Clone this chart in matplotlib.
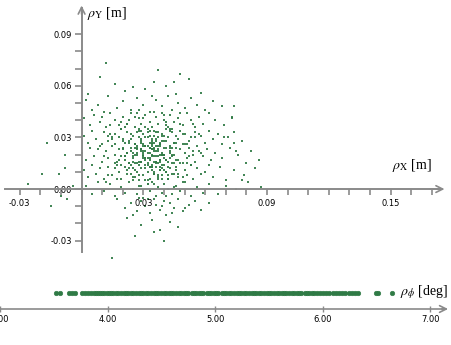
import numpy as np
import matplotlib
matplotlib.use("Agg")
import matplotlib.pyplot as plt

# ===============================
# Data
# ===============================
# position scatter, rho_X / rho_Y in metres, grouped in bands of rho_Y
x_top = [0.012, 0.009, 0.037, 0.048, 0.052, 0.016, 0.025, 0.031, 0.041, 0.045, 0.021, 0.058, 0.003, 0.035]
y_top = [0.073, 0.065, 0.069, 0.067, 0.064, 0.061, 0.059, 0.058, 0.060, 0.062, 0.057, 0.056, 0.055, 0.062]

x_high = [0.002, 0.008, 0.013, 0.017, 0.020, 0.024, 0.027, 0.030, 0.033, 0.036, 0.039, 0.042, 0.044,
          0.047, 0.050, 0.053, 0.056, 0.060, 0.064, 0.011, 0.028, 0.034, 0.046, 0.068, 0.005]
y_high = [0.052, 0.049, 0.054, 0.047, 0.051, 0.046, 0.053, 0.049, 0.045, 0.052, 0.048, 0.054, 0.046,
          0.050, 0.047, 0.053, 0.049, 0.046, 0.051, 0.045, 0.046, 0.054, 0.055, 0.048, 0.046]

x_b40 = [0.001, 0.004, 0.006, 0.009, 0.012, 0.014, 0.016, 0.018, 0.020, 0.022,
         0.024, 0.026, 0.028, 0.029, 0.031, 0.033, 0.034, 0.036, 0.037, 0.039,
         0.040, 0.042, 0.043, 0.045, 0.047, 0.049, 0.051, 0.053, 0.055, 0.057,
         0.059, 0.062, 0.065, 0.069, 0.073, 0.019, 0.027, 0.035, 0.041, 0.048,
         0.010, 0.023, 0.032, 0.044, 0.054]
y_b40 = [0.041, 0.037, 0.043, 0.039, 0.036, 0.044, 0.040, 0.037, 0.042, 0.038,
         0.044, 0.036, 0.041, 0.038, 0.043, 0.039, 0.036, 0.042, 0.038, 0.044,
         0.040, 0.036, 0.043, 0.039, 0.041, 0.037, 0.044, 0.040, 0.036, 0.042,
         0.038, 0.044, 0.040, 0.037, 0.042, 0.035, 0.044, 0.045, 0.037, 0.044,
         0.042, 0.040, 0.035, 0.035, 0.038]

x_b30 = [0.001, 0.003, 0.005, 0.007, 0.009, 0.011, 0.013, 0.014, 0.016, 0.018,
         0.019, 0.021, 0.022, 0.024, 0.025, 0.026, 0.028, 0.029, 0.030, 0.031,
         0.032, 0.033, 0.034, 0.035, 0.036, 0.037, 0.038, 0.039, 0.040, 0.041,
         0.042, 0.043, 0.044, 0.045, 0.046, 0.047, 0.048, 0.049, 0.050, 0.052,
         0.053, 0.055, 0.056, 0.058, 0.060, 0.062, 0.064, 0.066, 0.068, 0.071,
         0.074, 0.078, 0.020, 0.027, 0.033, 0.038, 0.043, 0.015, 0.051, 0.057]
y_b30 = [0.031, 0.027, 0.034, 0.029, 0.025, 0.033, 0.028, 0.032, 0.026, 0.030,
         0.035, 0.027, 0.033, 0.029, 0.031, 0.026, 0.034, 0.028, 0.032, 0.025,
         0.030, 0.034, 0.027, 0.031, 0.029, 0.033, 0.026, 0.032, 0.028, 0.035,
         0.030, 0.025, 0.033, 0.027, 0.031, 0.029, 0.034, 0.026, 0.032, 0.028,
         0.030, 0.033, 0.025, 0.031, 0.027, 0.034, 0.029, 0.032, 0.026, 0.030,
         0.033, 0.028, 0.029, 0.025, 0.031, 0.027, 0.034, 0.030, 0.026, 0.032]

x_b20 = [0.000, 0.002, 0.004, 0.006, 0.008, 0.010, 0.012, 0.013, 0.015, 0.016,
         0.017, 0.018, 0.019, 0.020, 0.021, 0.022, 0.023, 0.024, 0.025, 0.026,
         0.027, 0.028, 0.029, 0.030, 0.030, 0.031, 0.032, 0.033, 0.033, 0.034,
         0.035, 0.035, 0.036, 0.037, 0.038, 0.038, 0.039, 0.040, 0.041, 0.042,
         0.043, 0.044, 0.045, 0.046, 0.047, 0.048, 0.049, 0.050, 0.051, 0.052,
         0.054, 0.055, 0.057, 0.059, 0.061, 0.063, 0.065, 0.068, 0.072, 0.076,
         0.082, 0.086, 0.026, 0.031, 0.036, 0.040, 0.044, 0.021, 0.034, 0.029]
y_b20 = [0.021, 0.017, 0.024, 0.019, 0.023, 0.016, 0.022, 0.018, 0.025, 0.020,
         0.016, 0.023, 0.019, 0.024, 0.017, 0.021, 0.015, 0.022, 0.018, 0.024,
         0.020, 0.016, 0.023, 0.019, 0.025, 0.017, 0.021, 0.018, 0.024, 0.020,
         0.016, 0.022, 0.019, 0.023, 0.017, 0.025, 0.021, 0.018, 0.024, 0.016,
         0.022, 0.019, 0.020, 0.024, 0.017, 0.023, 0.015, 0.021, 0.018, 0.024,
         0.020, 0.016, 0.022, 0.019, 0.023, 0.017, 0.021, 0.018, 0.024, 0.020,
         0.022, 0.017, 0.015, 0.025, 0.016, 0.020, 0.015, 0.019, 0.025, 0.022]

x_b10 = [0.001, 0.003, 0.005, 0.007, 0.009, 0.011, 0.013, 0.015, 0.016, 0.018,
         0.019, 0.021, 0.022, 0.024, 0.025, 0.026, 0.028, 0.029, 0.030, 0.031,
         0.032, 0.033, 0.034, 0.035, 0.036, 0.037, 0.038, 0.039, 0.040, 0.041,
         0.042, 0.043, 0.044, 0.046, 0.047, 0.048, 0.050, 0.051, 0.053, 0.054,
         0.056, 0.058, 0.060, 0.062, 0.064, 0.067, 0.070, 0.074, 0.079, 0.084,
         0.027, 0.032, 0.035, 0.039, 0.045, 0.017, 0.023, 0.049, 0.034, 0.038]
y_b10 = [0.011, 0.007, 0.014, 0.009, 0.012, 0.006, 0.013, 0.008, 0.015, 0.010,
         0.006, 0.013, 0.009, 0.014, 0.007, 0.011, 0.005, 0.012, 0.008, 0.014,
         0.010, 0.006, 0.013, 0.009, 0.015, 0.007, 0.011, 0.008, 0.014, 0.010,
         0.006, 0.012, 0.009, 0.013, 0.007, 0.015, 0.011, 0.008, 0.014, 0.006,
         0.012, 0.009, 0.010, 0.014, 0.007, 0.013, 0.005, 0.011, 0.008, 0.012,
         0.015, 0.005, 0.010, 0.006, 0.009, 0.014, 0.012, 0.007, 0.013, 0.011]

x_b00 = [0.002, 0.005, 0.008, 0.011, 0.014, 0.016, 0.019, 0.021, 0.023, 0.025,
         0.027, 0.029, 0.030, 0.032, 0.033, 0.034, 0.036, 0.037, 0.039, 0.040,
         0.042, 0.044, 0.046, 0.048, 0.050, 0.053, 0.056, 0.059, 0.062, 0.066,
         0.070, 0.075, 0.081, 0.087, 0.028, 0.035, 0.041, -0.004, -0.010, 0.045]
y_b00 = [0.002, -0.003, 0.004, -0.001, 0.003, -0.004, 0.001, -0.002, 0.004, 0.000,
         -0.003, 0.002, -0.005, 0.003, -0.001, 0.004, -0.004, 0.001, -0.002, 0.003,
         0.000, -0.003, 0.002, -0.001, 0.004, -0.004, 0.001, -0.002, 0.003, -0.003,
         0.002, 0.000, 0.004, 0.001, -0.005, 0.003, -0.004, 0.002, -0.004, 0.001]

x_neg = [0.017, 0.021, 0.024, 0.027, 0.029, 0.031, 0.033, 0.035, 0.036, 0.038,
         0.040, 0.041, 0.043, 0.045, 0.047, 0.049, 0.052, 0.055, 0.058, 0.062,
         0.025, 0.032, 0.039, 0.044, 0.050,
         0.022, 0.029, 0.034, 0.038, 0.043, 0.047, 0.026, 0.040, 0.035, 0.015]
y_neg = [-0.006, -0.011, -0.008, -0.013, -0.007, -0.010, -0.014, -0.006, -0.009, -0.012,
         -0.007, -0.015, -0.008, -0.011, -0.006, -0.013, -0.009, -0.007, -0.012, -0.008,
         -0.015, -0.006, -0.010, -0.014, -0.011,
         -0.017, -0.021, -0.018, -0.024, -0.019, -0.022, -0.027, -0.030, -0.025, -0.040]

x_core = [0.021, 0.023, 0.025, 0.027, 0.029, 0.031, 0.033, 0.035, 0.037, 0.039, 0.041, 0.043,
          0.022, 0.024, 0.026, 0.028, 0.030, 0.032, 0.034, 0.036, 0.038, 0.040, 0.042, 0.044,
          0.023, 0.025, 0.027, 0.029, 0.031, 0.033, 0.035, 0.037, 0.039, 0.041, 0.043, 0.045,
          0.024, 0.026, 0.028, 0.030, 0.032, 0.034, 0.036, 0.038, 0.040, 0.042,
          0.020, 0.046, 0.031, 0.035, 0.027, 0.039, 0.033, 0.029, 0.037, 0.025, 0.041, 0.034, 0.030, 0.036,
          0.028, 0.030, 0.032, 0.034, 0.036, 0.038, 0.040, 0.029, 0.031, 0.033, 0.035, 0.037, 0.039, 0.027, 0.032,
          0.034, 0.036, 0.030, 0.038, 0.033, 0.035, 0.031, 0.037, 0.029, 0.039, 0.026, 0.041, 0.032, 0.034, 0.036]
y_core = [0.019, 0.027, 0.012, 0.023, 0.016, 0.030, 0.021, 0.009, 0.025, 0.014, 0.028, 0.018,
          0.011, 0.032, 0.020, 0.008, 0.026, 0.015, 0.029, 0.022, 0.017, 0.031, 0.013, 0.024,
          0.028, 0.016, 0.010, 0.034, 0.022, 0.013, 0.027, 0.019, 0.031, 0.010, 0.021, 0.015,
          0.024, 0.007, 0.030, 0.018, 0.033, 0.011, 0.016, 0.026, 0.020, 0.008,
          0.023, 0.027, 0.005, 0.019, 0.033, 0.012, 0.024, 0.029, 0.006, 0.021, 0.017, 0.014, 0.020, 0.025,
          0.014, 0.022, 0.018, 0.026, 0.013, 0.020, 0.024, 0.027, 0.012, 0.017, 0.023, 0.015, 0.028, 0.021, 0.025,
          0.019, 0.016, 0.021, 0.013, 0.027, 0.024, 0.018, 0.022, 0.016, 0.020, 0.026, 0.017, 0.014, 0.023, 0.028]

x_fill = [0.012, 0.015, 0.018, 0.021, 0.024, 0.027, 0.030, 0.033, 0.036, 0.039, 0.042, 0.045, 0.048, 0.051, 0.054,
          0.013, 0.016, 0.019, 0.022, 0.025, 0.028, 0.031, 0.034, 0.037, 0.040, 0.043, 0.046, 0.049, 0.052, 0.055,
          0.011, 0.014, 0.017, 0.020, 0.023, 0.026, 0.029, 0.032, 0.035, 0.038, 0.041, 0.044, 0.047, 0.050, 0.053,
          0.010, 0.013, 0.016, 0.019, 0.022, 0.025, 0.028, 0.031, 0.034, 0.037, 0.040, 0.043, 0.046, 0.049, 0.058]
y_fill = [0.004, 0.029, 0.017, 0.036, 0.009, 0.024, 0.041, 0.013, 0.033, 0.020, 0.006, 0.027, 0.038, 0.015, 0.022,
          0.031, 0.012, 0.039, 0.021, 0.005, 0.035, 0.018, 0.028, 0.008, 0.043, 0.024, 0.011, 0.032, 0.019, 0.030,
          0.019, 0.037, 0.006, 0.028, 0.015, 0.042, 0.023, 0.003, 0.034, 0.016, 0.039, 0.020, 0.009, 0.026, 0.014,
          0.026, 0.008, 0.032, 0.014, 0.038, 0.019, 0.002, 0.036, 0.023, 0.030, 0.011, 0.035, 0.017, 0.004, 0.021]

x_out = [-0.017, -0.008, -0.011, -0.008, -0.019, -0.026, -0.015, -0.007,
         0.074, 0.073, 0.069, 0.074, 0.075, 0.080, 0.078]
y_out = [0.027, 0.020, 0.009, 0.012, 0.009, 0.003, -0.010, -0.006,
         0.048, 0.041, 0.030, 0.027, 0.022, 0.015, 0.005]

# orientation error rho_phi in degrees
phi_low = [3.52, 3.56, 3.64, 3.67, 3.70, 3.76, 3.79, 3.82, 3.85, 3.87, 3.89, 3.91,
           3.93, 3.95, 3.97, 3.99, 4.01, 4.03, 4.05]
phi_mid = [4.08, 4.10, 4.12, 4.15, 4.17, 4.19, 4.22, 4.24, 4.26, 4.29, 4.31, 4.33,
           4.36, 4.38, 4.40, 4.43, 4.45, 4.47, 4.50, 4.52, 4.54, 4.57, 4.59, 4.61,
           4.64, 4.66, 4.68, 4.71, 4.73, 4.75, 4.78, 4.80, 4.82, 4.85, 4.87, 4.89,
           4.92, 4.94, 4.96, 4.99, 5.01, 5.03, 5.06, 5.08, 5.10, 5.13, 5.15, 5.17,
           5.20, 5.22, 5.24, 5.27, 5.29, 5.31, 5.34, 5.36, 5.38, 5.41, 5.43, 5.45,
           5.48, 5.50, 5.52, 5.55, 5.57, 5.59, 5.62, 5.64, 5.66, 5.69, 5.71, 5.73,
           5.76, 5.78, 5.80, 5.83, 5.85, 5.87, 5.90, 5.92, 5.95]
phi_high = [5.97, 6.00, 6.03, 6.06, 6.09, 6.12, 6.15, 6.18, 6.21, 6.24, 6.27, 6.30,
            6.33, 6.49, 6.51, 6.64]

xy_ticks = [-0.03, 0.03, 0.09, 0.15]
y_ticks = [-0.03, 0.00, 0.03, 0.06, 0.09]
phi_ticks = [3.0, 4.0, 5.0, 6.0, 7.0]


def main():
    W, H = 452, 345
    axis_col = "#8a8a8a"
    dot_col = "#2f7a45"

    plt.rcParams["mathtext.fontset"] = "stix"
    fig = plt.figure(figsize=(W / 100, H / 100), dpi=100)

    def fx(px):
        return px / W

    def fy(py):
        return 1 - py / H

    # ===============================
    # Position scatter
    # ===============================
    ax = fig.add_axes([0, fy(260), 1, 260 / H])
    ax.set_xlim(-0.0396, 0.1798)
    ax.set_ylim(-0.0412, 0.1098)

    xs = np.concatenate([x_top, x_high, x_b40, x_b30, x_b20, x_b10, x_b00, x_neg,
                         x_core, x_fill, x_out])
    ys = np.concatenate([y_top, y_high, y_b40, y_b30, y_b20, y_b10, y_b00, y_neg,
                         y_core, y_fill, y_out])
    ax.scatter(xs, ys, s=2.8, marker="s", color=dot_col, linewidths=0, alpha=0.9)

    for side in ["top", "right"]:
        ax.spines[side].set_visible(False)
    ax.spines["left"].set_position(("data", 0))
    ax.spines["bottom"].set_position(("data", 0))
    ax.spines["left"].set_bounds(-0.0366, 0.105)
    ax.spines["bottom"].set_bounds(-0.0372, 0.174)
    for side in ["left", "bottom"]:
        ax.spines[side].set_color(axis_col)
        ax.spines[side].set_linewidth(1.4)

    ax.set_xticks(xy_ticks)
    ax.set_xticklabels(["%.2f" % v for v in xy_ticks])
    ax.set_xticks(np.round(np.arange(-0.03, 0.175, 0.01), 2), minor=True)
    ax.set_yticks(y_ticks)
    ax.set_yticklabels(["%.2f" % v for v in y_ticks])
    ax.set_yticks(np.round(np.arange(-0.03, 0.095, 0.01), 2), minor=True)
    ax.tick_params(which="both", direction="out", color=axis_col, width=1.2,
                   labelsize=6, length=4)
    ax.tick_params(axis="x", pad=3)
    ax.tick_params(axis="y", pad=2, length=5)
    ax.tick_params(axis="y", which="minor", length=5)

    arrow = dict(arrowstyle="->", color=axis_col, lw=1.2, mutation_scale=12)
    ax.annotate("", xy=(0.1775, 0), xytext=(0.168, 0), arrowprops=arrow, annotation_clip=False)
    ax.annotate("", xy=(0, 0.1082), xytext=(0, 0.100), arrowprops=arrow, annotation_clip=False)

    # ===============================
    # Orientation strip
    # ===============================
    ax2 = fig.add_axes([0, 0, 1, 85 / H])
    ax2.set_xlim(3.079, 7.2005)
    ax2.set_ylim(-0.612, 0.388)
    phis = np.concatenate([phi_low, phi_mid, phi_high])
    ax2.plot(phis, np.zeros_like(phis), ls="none", marker="o", ms=3.3,
             color=dot_col, mec=dot_col, mew=0.4)

    for side in ["top", "right", "left"]:
        ax2.spines[side].set_visible(False)
    ax2.spines["bottom"].set_position(("axes", 36 / 85))
    ax2.spines["bottom"].set_bounds(3.0, 7.13)
    ax2.spines["bottom"].set_color(axis_col)
    ax2.spines["bottom"].set_linewidth(1.2)
    ax2.set_yticks([])
    ax2.set_xticks(phi_ticks)
    ax2.set_xticklabels(["%.2f" % v for v in phi_ticks])
    ax2.tick_params(axis="x", direction="inout", length=5, color=axis_col,
                    width=1.0, labelsize=6, pad=2)
    ax2.annotate("", xy=(7.19, -0.612 + 36 / 85), xytext=(7.08, -0.612 + 36 / 85),
                 arrowprops=arrow, annotation_clip=False)

    # ===============================
    # Axis titles
    # ===============================
    label_kw = dict(fontsize=10, family="Liberation Serif", va="center", ha="left")
    fig.text(fx(87), fy(13), r"$\rho_{\mathrm{Y}}$ [m]", **label_kw)
    fig.text(fx(392), fy(166), r"$\rho_{\mathrm{X}}$ [m]", **label_kw)
    fig.text(fx(400), fy(292), r"$\rho_{\phi}$ [deg]", **label_kw)

    fig.savefig("out.png", dpi=100)
    plt.close(fig)


if __name__ == "__main__":
    main()
